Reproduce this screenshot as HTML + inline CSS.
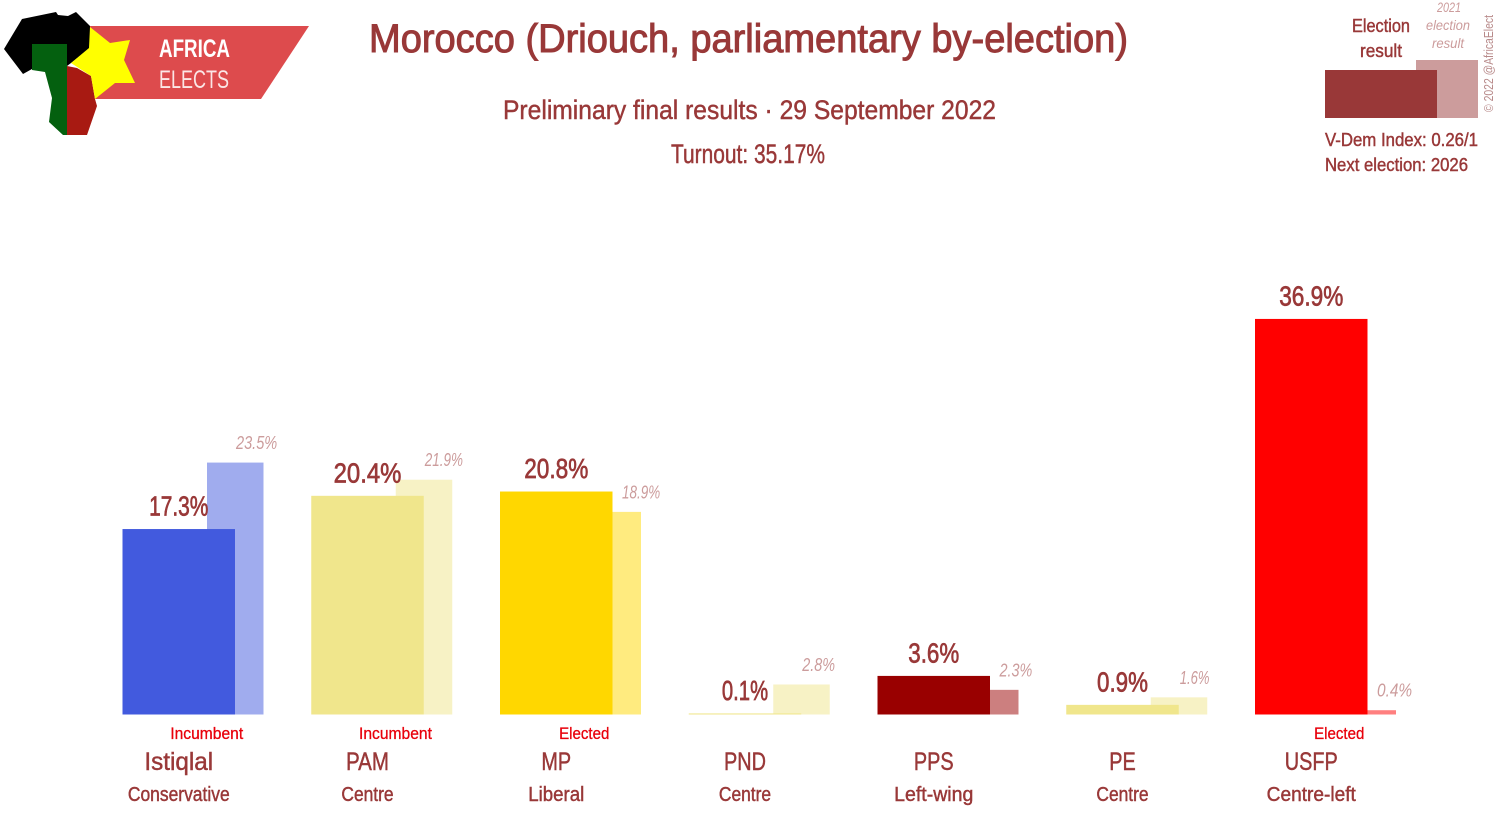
<!DOCTYPE html>
<html lang="en">
<head>
<meta charset="utf-8">
<title>Morocco (Driouch, parliamentary by-election)</title>
<style>
html,body{margin:0;padding:0;background:#fff;width:1509px;height:821px;overflow:hidden}
svg{display:block}
text{font-family:"Liberation Sans",sans-serif;fill:#993838;stroke:#993838;stroke-width:.45px}
</style>
</head>
<body>
<svg id="chart" xmlns="http://www.w3.org/2000/svg" width="1509" height="821" viewBox="0 0 1509 821">
  <g>
    <polygon points="90,26 309,26 261,99 95,99" fill="#dd4b4d"/>
    <polygon points="4,49 22,19 56,12 58,15 68,16 76,12 90,26 90,48 71,63 67,66 67,44 32,44 32,69 23,74" fill="#000"/>
    <polygon points="32,44 67,44 67,135 63,135 49,122 52,98 45,72 32,70" fill="#04600f"/>
    <polygon points="67,66 77,68 91,76 95,99 97,106 87,135 67,135" fill="#a81a12"/>
    <polygon points="90,27 110,43 130,40 124,60 135,83 115,83 95,99 91,76 71,63 89,48" fill="#ffff00"/>
    <text x="159" y="57" font-size="25" font-weight="bold" textLength="71" lengthAdjust="spacingAndGlyphs" style="fill:#fff;stroke:none">AFRICA</text>
    <text x="159" y="88" font-size="25" textLength="70" lengthAdjust="spacingAndGlyphs" style="fill:#fbe6e6;stroke:none">ELECTS</text>
  </g>

  <text x="369" y="52" font-size="40" textLength="759" lengthAdjust="spacingAndGlyphs" style="stroke-width:1px">Morocco (Driouch, parliamentary by-election)</text>
  <text x="503" y="119" font-size="27" textLength="493" lengthAdjust="spacingAndGlyphs">Preliminary final results · 29 September 2022</text>
  <text x="671" y="163" font-size="27" textLength="154" lengthAdjust="spacingAndGlyphs">Turnout: 35.17%</text>

  <g>
    <text x="1352" y="32" font-size="18" textLength="58" lengthAdjust="spacingAndGlyphs">Election</text>
    <text x="1360" y="57" font-size="18" textLength="42" lengthAdjust="spacingAndGlyphs">result</text>
    <text x="1437" y="12" font-size="14" font-style="italic" textLength="24" lengthAdjust="spacingAndGlyphs" style="fill:#cc9c9c;stroke:none">2021</text>
    <text x="1426" y="30" font-size="14" font-style="italic" textLength="44" lengthAdjust="spacingAndGlyphs" style="fill:#cc9c9c;stroke:none">election</text>
    <text x="1432" y="48" font-size="14" font-style="italic" textLength="32" lengthAdjust="spacingAndGlyphs" style="fill:#cc9c9c;stroke:none">result</text>
    <rect x="1416" y="60" width="62" height="58" fill="#cc9c9c"/>
    <rect x="1325" y="70" width="112" height="48" fill="#993838"/>
    <text x="1325" y="146" font-size="18" textLength="153" lengthAdjust="spacingAndGlyphs">V-Dem Index: 0.26/1</text>
    <text x="1325" y="171" font-size="18" textLength="143" lengthAdjust="spacingAndGlyphs">Next election: 2026</text>
    <text transform="translate(1493,112) rotate(-90)" font-size="13" textLength="97" lengthAdjust="spacingAndGlyphs" style="fill:#b88a8a;stroke:none">© 2022 @AfricaElect</text>
  </g>

  <g id="bars"></g>
  <g id="labels"></g>
</svg>

<script>
const parties = ["Istiqlal", "PAM", "MP", "PND", "PPS", "PE", "USFP"];
const ideologies = ["Conservative", "Centre", "Liberal", "Centre", "Left-wing", "Centre", "Centre-left"];
const statuses = ["Incumbent", "Incumbent", "Elected", "", "", "", "Elected"];
const results = [17.3, 20.4, 20.8, 0.1, 3.6, 0.9, 36.9];
const previousResults = [23.5, 21.9, 18.9, 2.8, 2.3, 1.6, 0.4];
const partyColors = ["#425ade", "#f0e68c", "#ffd700", "#f0e68c", "#990000", "#f0e68c", "#ff0000"];

const NS = "http://www.w3.org/2000/svg";
const barsLayer = document.getElementById("bars");
const labelsLayer = document.getElementById("labels");

const BASELINE = 714.5;
const PX_PER_POINT = 10.72;
const STEP = 188.75;
const LEFT = 122.5;
const MAIN_W = 112.5;
const PREV_W = 56.5;
const PREV_OFFSET = 84.5;

function xScale(i) { return LEFT + i * STEP; }
function yScale(v) { return BASELINE - v * PX_PER_POINT; }

// Approximate advance (in em) of the reference's narrow display face.
function charEm(c) {
  if (c === "M") return 0.66;
  if (c === "N") return 0.62;
  if (c === "I" || c === "l" || c === "i") return 0.26;
  if (c === "1") return 0.3;
  if (c === "4") return 0.6;
  if (c === "." || c === ",") return 0.16;
  if (c === "%") return 0.72;
  if (c === "-") return 0.34;
  if (c === "t" || c === "r") return 0.33;
  if (c === "v") return 0.42;
  if (c === "w") return 0.62;
  if (c === "m") return 0.78;
  if (c === "n" || c === "u" || c === "b") return 0.5;
  if (/[A-Z]/.test(c)) return 0.53;
  if (/[0-9]/.test(c)) return 0.47;
  return 0.46;
}
function fittedWidth(str, size) {
  let em = 0;
  for (const c of str) em += charEm(c);
  return em * size;
}
function addText(str, left, y, size) {
  const t = document.createElementNS(NS, "text");
  t.textContent = str;
  t.setAttribute("x", left);
  t.setAttribute("y", y);
  t.setAttribute("font-size", size);
  t.setAttribute("textLength", fittedWidth(str, size));
  t.setAttribute("lengthAdjust", "spacingAndGlyphs");
  labelsLayer.appendChild(t);
  return t;
}
function addCentred(str, cx, y, size) {
  return addText(str, cx - fittedWidth(str, size) / 2, y, size);
}

parties.forEach(function (party, i) {
  const x = xScale(i);
  const cx = x + MAIN_W / 2;
  const slug = party.toLowerCase();
  const prevRight = x + PREV_OFFSET + PREV_W;

  const prev = document.createElementNS(NS, "rect");
  
  
  prev.setAttribute("x", x + PREV_OFFSET);
  prev.setAttribute("y", yScale(previousResults[i]));
  prev.setAttribute("width", PREV_W);
  prev.setAttribute("height", BASELINE - yScale(previousResults[i]));
  prev.setAttribute("fill", partyColors[i]);
  prev.setAttribute("fill-opacity", "0.5");
  barsLayer.appendChild(prev);

  const bar = document.createElementNS(NS, "rect");
  
  
  bar.setAttribute("x", x);
  bar.setAttribute("y", yScale(results[i]));
  bar.setAttribute("width", MAIN_W);
  bar.setAttribute("height", BASELINE - yScale(results[i]));
  bar.setAttribute("fill", partyColors[i]);
  barsLayer.appendChild(bar);

  const prevLeft = prevRight + (previousResults[i] > results[i] ? -27.5 : -19);
  const prevLabel = addText(previousResults[i].toFixed(1) + "%", prevLeft, yScale(previousResults[i]) - 13.5, 18);
  
  
  prevLabel.setAttribute("font-style", "italic");
  prevLabel.style.fill = "#cc9c9c";
  prevLabel.style.stroke = "none";

  const value = addCentred(results[i].toFixed(1) + "%", cx, yScale(results[i]) - 13.5, 28);
  
  
  value.style.strokeWidth = "0.7px";

  if (statuses[i]) {
    const status = addCentred(statuses[i], cx + 28, 739, 17);
    
    
    status.style.fill = "#e8000b";
    status.style.stroke = "#e8000b";
    status.style.strokeWidth = "0.3px";
  }

  const name = addCentred(party, cx, 770, 25);
  
  

  const ideology = addCentred(ideologies[i], cx, 801, 20);
  
  
});
</script>
</body>
</html>
